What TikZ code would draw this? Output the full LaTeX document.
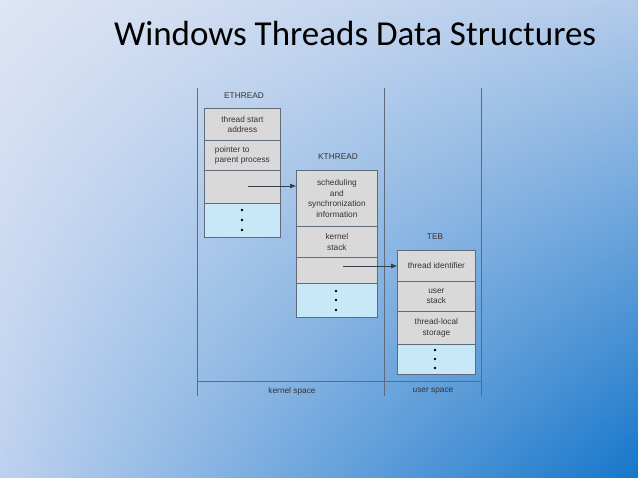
\documentclass[tikz,border=0pt]{standalone}
\usepackage{fontspec}
\setmainfont{Liberation Sans}
\newfontfamily\titlefont{Carlito}
\usetikzlibrary{arrows.meta,shadings}
\definecolor{bgTL}{HTML}{DEE5F4}
\definecolor{bgTR}{HTML}{B3CBEA}
\definecolor{bgBL}{HTML}{BDD1EE}
\definecolor{bgBR}{HTML}{1676CA}
\definecolor{cellgray}{HTML}{D9D9D9}
\definecolor{cellblue}{HTML}{C8E8F8}
\definecolor{edgecol}{HTML}{5F6A7A}
\definecolor{txtcol}{HTML}{333333}
\definecolor{arrcol}{HTML}{35404E}
\tikzset{
  cell/.style={draw=edgecol, line width=0.8pt, fill=cellgray, anchor=north west,
    inner sep=0pt, align=center, text=txtcol,
    font=\fontsize{8.3}{10.6}\selectfont},
  bluecell/.style={cell, fill=cellblue},
  lbl/.style={text=txtcol, font=\fontsize{8.3}{10}\selectfont, inner sep=0pt},
  divider/.style={draw=edgecol, line width=0.8pt},
  ptr/.style={draw=arrcol, line width=0.9pt, -{Triangle[length=6pt,width=4.5pt]}},
  dotmark/.style={fill=black, draw=none}
}
\begin{document}
\begin{tikzpicture}[x=1pt,y=-1pt]
\useasboundingbox (0,0) rectangle (638,478);
\shade[upper left=bgTL, upper right=bgTR, lower left=bgBL, lower right=bgBR] (0,0) rectangle (638,478);

% title
\node[anchor=base west, inner sep=0pt, font=\titlefont\fontsize{35}{40}\selectfont] (title) at (114,46) {Windows Threads Data Structures};

% space dividers
\coordinate (v1t) at (197.5,88); \coordinate (v1b) at (197.5,396);
\coordinate (v2t) at (384,88);   \coordinate (v2b) at (384,396);
\coordinate (v3t) at (481,88);   \coordinate (v3b) at (481,396);
\coordinate (hl) at (197.5,381); \coordinate (hr) at (481,381);
\draw[divider] (v1t) -- (v1b);
\draw[divider] (v2t) -- (v2b);
\draw[divider] (v3t) -- (v3b);
\draw[divider] (hl) -- (hr);
\node[lbl] (ks) at (292,391) {kernel space};
\node[lbl] (us) at (433,391) {user space};

% ETHREAD
\node[lbl] (elab) at (244,96) {ETHREAD};
\node[cell, minimum width=76pt, minimum height=32pt] (e1) at (204,108) {thread start\\address};
\node[cell, minimum width=76pt, minimum height=30pt, align=left] (e2) at (204,140) {pointer to\\parent process};
\node[cell, minimum width=76pt, minimum height=33pt] (e3) at (204,170) {};
\node[bluecell, minimum width=76pt, minimum height=34pt] (e4) at (204,203) {};
\foreach \yy in {210,220,230} \fill[dotmark] (242,\yy) circle (1.4pt);

% KTHREAD
\node[lbl] (klab) at (338,157) {KTHREAD};
\node[cell, minimum width=81pt, minimum height=56pt] (k1) at (296,170) {scheduling\\and\\synchronization\\information};
\node[cell, minimum width=81pt, minimum height=31pt] (k2) at (296,226) {kernel\\stack};
\node[cell, minimum width=81pt, minimum height=26pt] (k3) at (296,257) {};
\node[bluecell, minimum width=81pt, minimum height=34pt] (k4) at (296,283) {};
\foreach \yy in {291,300,310} \fill[dotmark] (336,\yy) circle (1.4pt);

% TEB
\node[lbl] (tlab) at (435,237) {TEB};
\node[cell, minimum width=78pt, minimum height=31pt] (t1) at (397,250) {thread identifier};
\node[cell, minimum width=78pt, minimum height=30pt] (t2) at (397,281) {user\\stack};
\node[cell, minimum width=78pt, minimum height=33pt] (t3) at (397,311) {thread-local\\storage};
\node[bluecell, minimum width=78pt, minimum height=30pt] (t4) at (397,344) {};
\foreach \yy in {350,359,368} \fill[dotmark] (435,\yy) circle (1.4pt);

% pointers
\coordinate (p1) at (248,186);
\coordinate (p2) at (343,266);
\draw[ptr] (p1) -- (p1 -| k1.west);
\draw[ptr] (p2) -- (p2 -| t1.west);
\end{tikzpicture}
\end{document}
